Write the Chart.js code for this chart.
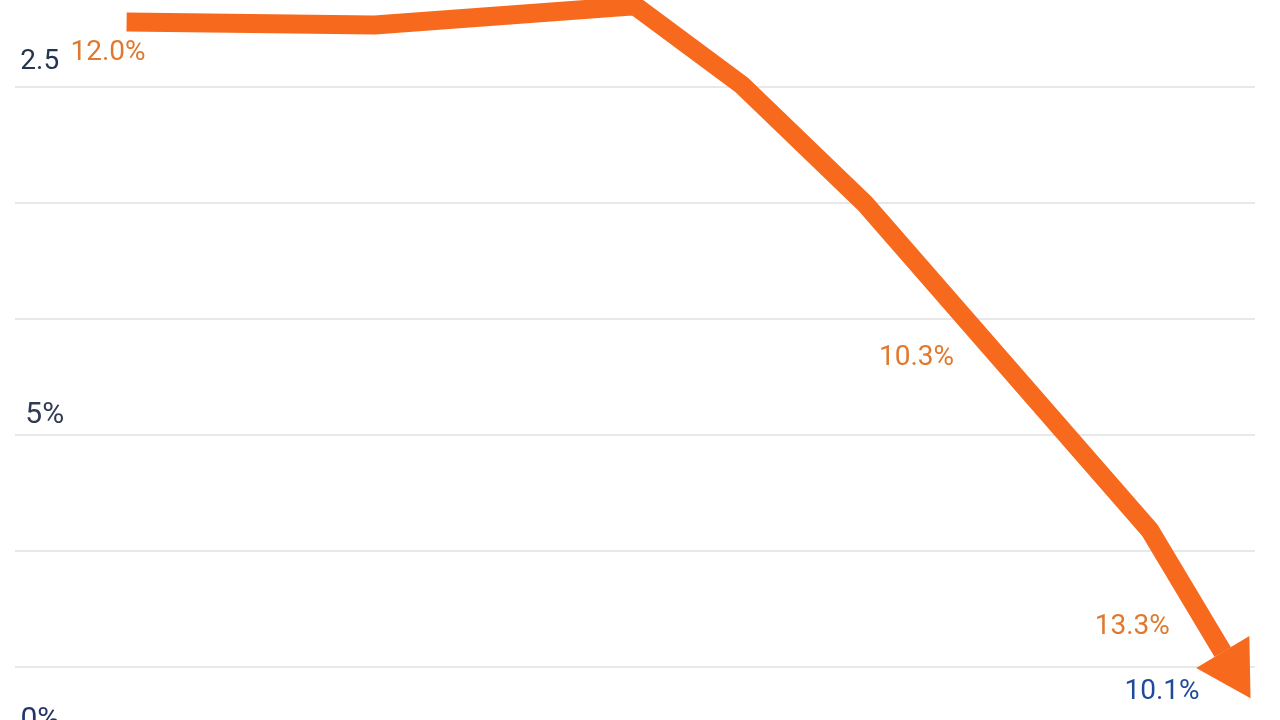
<!DOCTYPE html>
<html>
<head>
<meta charset="utf-8">
<script src="https://cdn.jsdelivr.net/npm/chart.js@4/dist/chart.umd.min.js"></script>
<style>
    html, body { margin: 0; padding: 0; background: #ffffff; }
    #wrap { width: 1280px; height: 720px; position: relative; }
</style>
</head>
<body>
<div id="wrap"><canvas id="rate-chart"></canvas></div>
<script>
// Chart data
const periods = [0.9, 2.9, 5.0, 5.86, 6.85, 9.15, 9.74];
const rates = [27.8, 27.67, 28.5, 25.09, 20.0, 5.91, 0.65];

// Text labels
const labelTexts = ['2.5', '12.0%', '5%', '0%', '10.3%', '13.3%', '10.1%'];
const labelX = [0.2, 0.75, 0.24, 0.2, 7.27, 9.01, 9.25];
const labelY = [26.08, 26.47, 10.86, -2.3, 13.33, 1.72, -1.08];

const orange = '#f76a1d';
const labelColors = ['#26344f', '#e0792f', '#2f3b52', '#24366a', '#e0792f', '#e0792f', '#1f4a9c'];
const labelSizes = [28, 28, 30, 30, 28, 28, 28];

// Arrow head at the end of the line
const arrowPlugin = {
    id: 'arrowHead',
    afterDatasetsDraw(chart) {
        const pts = chart.getDatasetMeta(0).data;
        const a = pts[pts.length - 2];
        const b = pts[pts.length - 1];
        const ang = Math.atan2(b.y - a.y, b.x - a.x);
        const len = 54, half = 31;
        const ctx = chart.ctx;
        ctx.save();
        ctx.fillStyle = orange;
        ctx.beginPath();
        ctx.moveTo(b.x + Math.cos(ang) * len, b.y + Math.sin(ang) * len);
        ctx.lineTo(b.x - Math.sin(ang) * half, b.y + Math.cos(ang) * half);
        ctx.lineTo(b.x + Math.sin(ang) * half, b.y - Math.cos(ang) * half);
        ctx.closePath();
        ctx.fill();
        ctx.restore();
    }
};

// Free labels placed in data units
const textPlugin = {
    id: 'freeLabels',
    afterDraw(chart) {
        const ctx = chart.ctx;
        const xs = chart.scales.x, ys = chart.scales.y;
        ctx.save();
        ctx.textAlign = 'center';
        ctx.textBaseline = 'middle';
        labelTexts.forEach((t, i) => {
            ctx.font = labelSizes[i] + 'px Roboto, "Liberation Sans", sans-serif';
            ctx.fillStyle = labelColors[i];
            ctx.fillText(t, xs.getPixelForValue(labelX[i]), ys.getPixelForValue(labelY[i]));
        });
        ctx.restore();
    }
};

const ctx = document.getElementById('rate-chart').getContext('2d');
new Chart(ctx, {
    type: 'line',
    data: {
        datasets: [{
            data: periods.map((p, i) => ({ x: p, y: rates[i] })),
            borderColor: orange,
            borderWidth: 19,
            borderCapStyle: 'butt',
            borderJoinStyle: 'round',
            pointRadius: 0,
            tension: 0,
            clip: false
        }]
    },
    options: {
        responsive: true,
        maintainAspectRatio: false,
        animation: false,
        layout: { padding: { left: 15, right: 25, top: 0, bottom: 0 } },
        scales: {
            x: {
                type: 'linear',
                min: 0,
                max: 10,
                display: false
            },
            y: {
                min: -2.28,
                max: 28.75,
                border: { display: false },
                grid: { color: '#e8e8e8', lineWidth: 2, drawTicks: false },
                ticks: { display: false, stepSize: 5, includeBounds: false, padding: 0 }
            }
        },
        plugins: {
            legend: { display: false },
            tooltip: { enabled: false }
        }
    },
    plugins: [arrowPlugin, textPlugin]
});
</script>
</body>
</html>
